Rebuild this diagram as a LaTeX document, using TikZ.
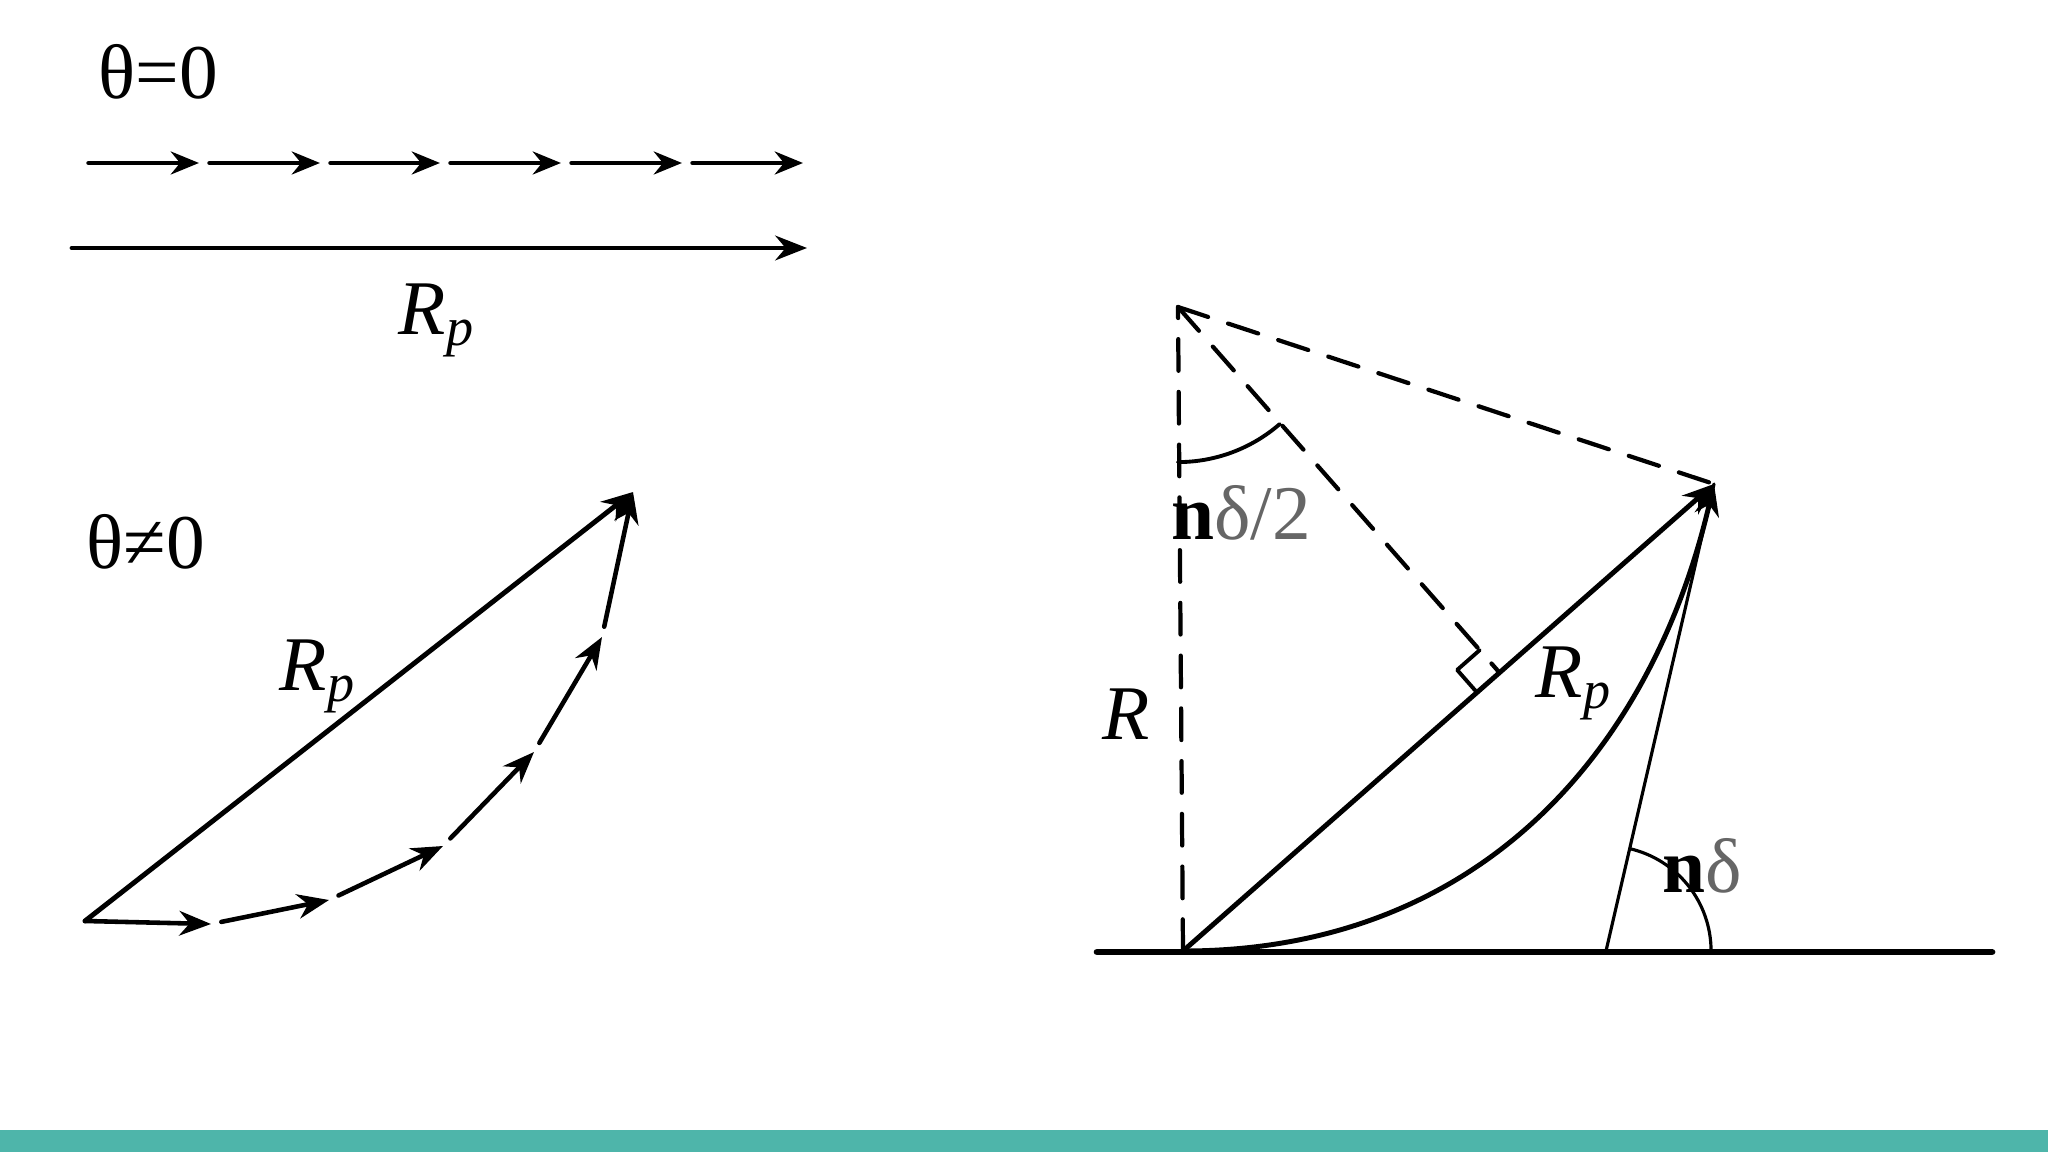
\documentclass[tikz,border=0pt]{standalone}
\usepackage{fontspec}
\setmainfont{Liberation Serif}
\usetikzlibrary{arrows.meta,calc}
\definecolor{bandteal}{RGB}{78,181,170}
\begin{document}
\begin{tikzpicture}[x=0.01cm,y=-0.01cm,line join=round,line cap=round,>={Stealth[length=9pt,width=7pt]},font=\fontsize{22}{26}\selectfont]
	\useasboundingbox (0,0) rectangle (2048,1152);
	\fill[bandteal] (0,1130) rectangle (2048,1152);
	\path (158,72)node(t0){θ=0}
	(437,320)node(r1){\textit{R}\textsubscript{\textit{p}}}
	(146,542)node(t1){θ≠0}
	(318,676)node(r2){\textit{R}\textsubscript{\textit{p}}}
	(1126,714)node(r){\textit{R}}
	(1574,683)node(r3){\textit{R}\textsubscript{\textit{p}}}
	(1241,513)node(h){{\bfseries n}\textcolor{black!60}{δ/2}}
	(1702,866)node(d){{\bfseries n}\textcolor{black!60}{δ}}
	;
	\path (78,163)coordinate(a0) (199,163)coordinate(a1)
	(320,163)coordinate(a2) (440,163)coordinate(a3)
	(561,163)coordinate(a4) (682,163)coordinate(a5)
	(803,163)coordinate(a6)
	(72,248)coordinate(b0) (807,248)coordinate(b1);
	\path (85,921)coordinate(c0) (211,924)coordinate(c1)
	(329,900)coordinate(c2) (443,846)coordinate(c3)
	(534,752)coordinate(c4) (602,637)coordinate(c5)
	(633,492)coordinate(c6);
	\path (1183,951)coordinate(O) (1178,307)coordinate(T)
	(1714,484)coordinate(P) (1606,951)coordinate(B)
	(1097,952)coordinate(g0) (1992,952)coordinate(g1);
	\coordinate (M) at ($(O)!(T)!(P)$);
	\coordinate (m1) at ($(M)!0.3cm!(O)$);
	\coordinate (m2) at ($(M)!0.3cm!(T)$);
	\coordinate (m3) at ($(m1)+(m2)-(M)$);
	\draw[-{Stealth[length=8pt,width=6.5pt]},line width=1.3pt,shorten <=3pt](a0)--(a1);
	\draw[-{Stealth[length=8pt,width=6.5pt]},line width=1.3pt,shorten <=3pt](a1)--(a2);
	\draw[-{Stealth[length=8pt,width=6.5pt]},line width=1.3pt,shorten <=3pt](a2)--(a3);
	\draw[-{Stealth[length=8pt,width=6.5pt]},line width=1.3pt,shorten <=3pt](a3)--(a4);
	\draw[-{Stealth[length=8pt,width=6.5pt]},line width=1.3pt,shorten <=3pt](a4)--(a5);
	\draw[-{Stealth[length=8pt,width=6.5pt]},line width=1.3pt,shorten <=3pt](a5)--(a6);
	\draw[->,line width=1.4pt](b0)--(b1);
	\draw[->,line width=1.3pt](c0)--(c1);
	\draw[->,line width=1.3pt,shorten <=3pt](c1)--(c2);
	\draw[->,line width=1.3pt,shorten <=3pt](c2)--(c3);
	\draw[->,line width=1.3pt,shorten <=3pt](c3)--(c4);
	\draw[->,line width=1.3pt,shorten <=3pt](c4)--(c5);
	\draw[->,line width=1.3pt,shorten <=3pt](c5)--(c6);
	\draw[->,line width=1.4pt](c0)--(c6);
	\draw[line width=1.9pt](g0)--(g1);
	\draw[line width=1.2pt,dash pattern=on 9pt off 6pt](O)--(T);
	\draw[line width=1.2pt,dash pattern=on 9pt off 6pt](T)--(P);
	\draw[line width=1.2pt,dash pattern=on 9pt off 6pt](T)--(M);
	\draw[line width=1.1pt](m1)--(m3)--(m2);
	\draw[line width=1.1pt](T)++(-90:1.55cm) arc[start angle=-90,end angle=-49,radius=1.55cm];
	\draw[->,line width=1.4pt](O)--(P);
	\draw[->,line width=1.4pt](O) .. controls (1480,951) and (1652,750) .. (P);
	\draw[line width=0.9pt](B)--(P);
	\draw[line width=0.9pt](B)++(0:1.05cm) arc[start angle=0,end angle=77,radius=1.05cm];
\end{tikzpicture}
\end{document}
